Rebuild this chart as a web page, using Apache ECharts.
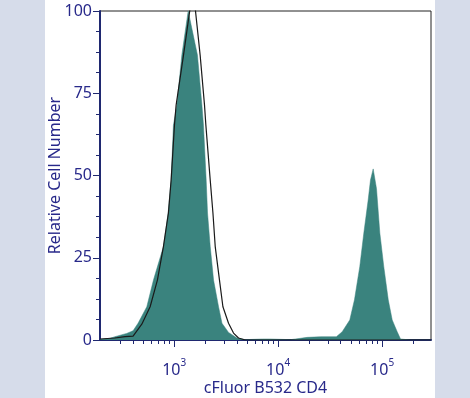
<!DOCTYPE html>
<html>
<head>
<meta charset="utf-8">
<script src="https://cdn.jsdelivr.net/npm/echarts@6/dist/echarts.min.js"></script>
<style>
  html, body { margin: 0; padding: 0; background: #d6dcea; }
  #panel { position: absolute; left: 45px; top: 0; width: 390px; height: 398px; background: #fff; }
  #main { position: absolute; left: 0; top: 0; width: 470px; height: 398px; }
</style>
</head>
<body>
<div id="panel"></div>
<div id="main"></div>
<script>
    // fluorescence in log10 units, counts as % of max
    var sampleLog = [2.29, 2.383, 2.43, 2.544, 2.605, 2.653, 2.737, 2.801, 2.897, 2.942, 2.971, 2.993, 3.026, 3.074, 3.135,
        3.224, 3.267, 3.282, 3.308, 3.321, 3.347, 3.379, 3.427, 3.46, 3.523, 3.604, 3.684,
        3.85, 3.92, 4.12, 4.28, 4.41, 4.56, 4.616, 4.689, 4.734, 4.785, 4.824, 4.866, 4.888, 4.914,
        4.946, 4.978, 5.016, 5.059, 5.097, 5.145, 5.177, 5.27, 5.47];
    var sampleCount = [0.2, 0.5, 1.0, 2.0, 2.8, 5.1, 10.1, 18.2, 28.4, 38.6, 48.6, 65.3, 71.4, 86.6, 100,
        86.6, 71.4, 65.3, 48.6, 38.6, 28.4, 18.2, 10.1, 5.1, 2.3, 0.6, 0.1,
        0.3, 0.3, 0.1, 0.8, 1.0, 1.0, 2.5, 6.1, 12.2, 22.3, 32.5, 42.6, 48.6, 52,
        46, 32.5, 22.3, 12.2, 6.1, 2.5, 0.3, 0, 0];

    var controlLog = [2.287, 2.43, 2.528, 2.605, 2.689, 2.769, 2.839, 2.897, 2.945, 2.971, 3.003, 3.019, 3.09, 3.154,
        3.202, 3.25, 3.292, 3.305, 3.347, 3.373, 3.395, 3.436, 3.469, 3.523, 3.571, 3.619, 3.684, 5.47];
    var controlCount = [0.3, 0.6, 1.0, 1.2, 4.8, 10.1, 18.2, 28.4, 38.6, 48.6, 65.3, 71.4, 86.6, 101,
        101, 86.6, 71.4, 65.3, 48.6, 38.6, 28.4, 18.2, 10.1, 5.1, 2.1, 0.6, 0, 0];

    var decades = [3, 4, 5];
    var minorTickValues = [300, 400, 500, 600, 700, 800, 900,
        2000, 3000, 4000, 5000, 6000, 7000, 8000, 9000,
        20000, 30000, 40000, 50000, 60000, 70000, 80000, 90000, 200000];

    var NAVY = '#1f2870';
    var TEXT = '#28298a';
    var TEAL = '#3a837e';
    var FONT = 'Noto Sans';

    function pairs(xs, ys) {
        return xs.map(function (x, i) { return [x, ys[i]]; });
    }

    var chartDom = document.getElementById('main');
    var myChart = echarts.init(chartDom);
    var option;

    option = {
        animation: false,
        grid: {
            left: 100, top: 11, right: 39, bottom: 58,
            outerBoundsMode: 'none',
            show: true, borderColor: '#222', borderWidth: 1
        },
        xAxis: [
            {
                type: 'value', min: 2.287, max: 5.47,
                name: 'cFluor B532 CD4',
                nameLocation: 'middle',
                nameGap: 40,
                nameMoveOverlap: false,
                nameTextStyle: { color: TEXT, fontSize: 16, fontFamily: FONT },
                axisLine: { lineStyle: { color: NAVY, width: 2 } },
                axisTick: {
                    customValues: minorTickValues.map(function (v) { return Math.log10(v); }),
                    length: 4,
                    lineStyle: { color: NAVY, width: 1 }
                },
                axisLabel: {
                    customValues: decades,
                    margin: 18,
                    formatter: function (v) { return '{b|10}{s|' + v + '}'; },
                    rich: {
                        b: { fontSize: 16, color: TEXT, fontFamily: FONT, verticalAlign: 'bottom' },
                        s: { fontSize: 10, color: TEXT, fontFamily: FONT, verticalAlign: 'top', padding: [0, 0, 10, 0] }
                    }
                },
                splitLine: { show: false }
            },
            {
                type: 'value', min: 2.287, max: 5.47,
                position: 'bottom',
                axisLine: { show: false },
                axisTick: { customValues: decades, length: 7, lineStyle: { color: NAVY, width: 1 } },
                axisLabel: { show: false },
                splitLine: { show: false }
            }
        ],
        yAxis: {
            type: 'value', min: 0, max: 100, interval: 25,
            name: 'Relative Cell Number',
            nameLocation: 'middle',
            nameGap: 37,
            nameMoveOverlap: false,
            nameTextStyle: { color: TEXT, fontSize: 16, fontFamily: FONT },
            axisLine: { show: true, lineStyle: { color: NAVY, width: 2 } },
            axisTick: { show: true, length: 7, lineStyle: { color: NAVY, width: 1 } },
            minorTick: { show: true, splitNumber: 4, length: 4, lineStyle: { color: NAVY, width: 1 } },
            axisLabel: { color: TEXT, fontSize: 16, fontFamily: FONT, margin: 8 },
            splitLine: { show: false }
        },
        series: [
            {
                name: 'CD4',
                type: 'line',
                data: pairs(sampleLog, sampleCount),
                symbol: 'none',
                lineStyle: { width: 0.5, color: TEAL },
                areaStyle: { color: TEAL, opacity: 1 },
                z: 2
            },
            {
                name: 'Control',
                type: 'line',
                data: pairs(controlLog, controlCount),
                symbol: 'none',
                lineStyle: { width: 1.2, color: '#1a1a1a' },
                z: 3
            }
        ]
    };

    option && myChart.setOption(option);
</script>
</body>
</html>
